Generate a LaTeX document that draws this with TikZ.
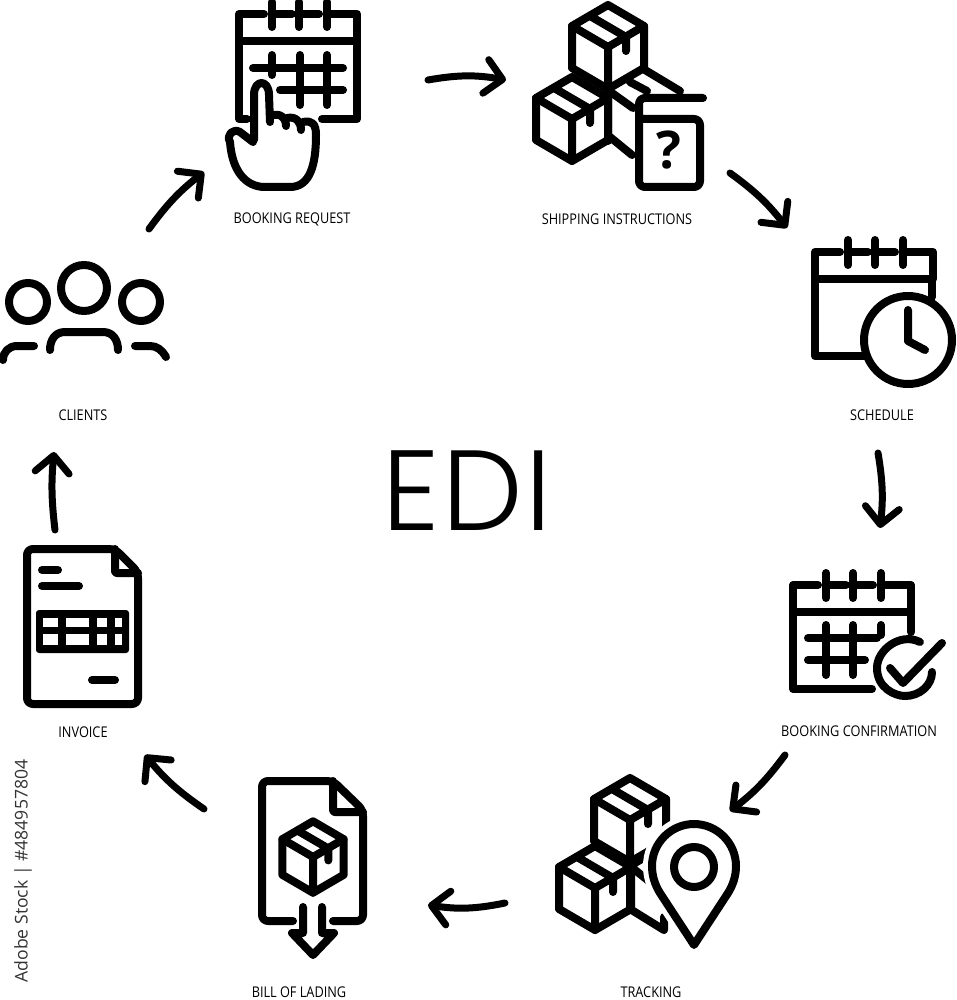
\documentclass[tikz,border=0pt]{standalone}
\usepackage{fontspec}
\usetikzlibrary{arrows.meta}
\newfontfamily\labelfont[FakeStretch=.86]{Open Sans}
\newfontfamily\titlefont[LetterSpace=2]{Poppins Light}
\begin{document}
\begin{tikzpicture}[
        x=1pt,y=-1pt,
        ink/.style={draw=black,line width=8pt,line cap=round,line join=round},
        flow/.style={draw=black,line width=7pt,line cap=round,-{Straight Barb[length=17pt,width=34pt,round]}},
        caption/.style={font=\labelfont\fontsize{14.8}{15}\selectfont,inner sep=0pt},
        cartonbox/.pic={
            \draw[ink] (0,-42)--(36,-21)--(36,21)--(0,42)--(-36,21)--(-36,-21)--cycle;
            \draw[ink] (-36,-21)--(0,0)--(36,-21) (0,0)--(0,42);
            \draw[ink] (-18,-31)--(18,-10)--(18,4);
        },
        calendarhead/.pic={
            \draw[ink] (0,27)--(0,0)--(25,0) (33,-12)--(33,13) (33,0)--(53,0);
            \draw[ink] (60,-12)--(60,13) (60,0)--(80,0) (88,-12)--(88,13);
            \draw[ink] (88,0)--(118,0)--(118,27) (0,27)--(118,27);
        }
      ]
      \useasboundingbox (0,0) rectangle (957,1000);
      \node[font=\titlefont\fontsize{114}{114}\selectfont,inner sep=0pt] (edi) at (467,491) {EDI};
      \node[caption] (bookingrequest) at (292,219) {BOOKING REQUEST};
      \node[caption] (shipping) at (617,219) {SHIPPING INSTRUCTIONS};
      \node[caption] (schedule) at (882,415) {SCHEDULE};
      \node[caption] (confirmation) at (859,731) {BOOKING CONFIRMATION};
      \node[caption] (tracking) at (651,992) {TRACKING};
      \node[caption] (lading) at (299,992) {BILL OF LADING};
      \node[caption] (invoice) at (83,732) {INVOICE};
      \node[caption] (clients) at (83,415) {CLIENTS};
      \node[rotate=90,text=black!80,font=\fontspec{Open Sans}\fontsize{17.6}{18}\selectfont,inner sep=0pt] (stockid) at (23,871) {Adobe Stock | \#484957804};

      \pic at (239,14) {calendarhead};
      \draw[ink] (239,41)--(239,119)--(247,119) (357,41)--(357,119)--(322,119);
      \draw[ink] (253,68)--(343,68) (280,90)--(343,90);
      \draw[ink] (272,55)--(272,75) (300,55)--(300,105) (327,55)--(327,105);
      \draw[ink] (254,140)--(254,95) .. controls (254,79) and (269,79) .. (269,95)--(270,122);
      \draw[ink] (271,116) .. controls (280,112) and (286,118) .. (286,126);
      \draw[ink] (287,118) .. controls (296,116) and (301,122) .. (301,130);
      \draw[ink] (303,122) .. controls (312,120) and (316,124) .. (316,135) .. controls (316,165) and (310,187) .. (290,187)--(265,187) .. controls (245,187) and (232,170) .. (230,142) .. controls (226,135) and (233,128) .. (240,132)--(253,142);

      \pic at (608,47) {cartonbox};
      \pic at (572,119) {cartonbox};
      \draw[ink] (608,90)--(608,141) (645,70)--(680,91) (630,82)--(647,91);
      \draw[ink] (612,93)--(633,108) (610,137)--(632,155);
      \draw[ink,rounded corners=6pt] (703,98)--(639,98)--(639,187)--(700,187)--(700,119)--(641,119);
      \node[font=\fontspec{Open Sans Bold}\fontsize{52}{52}\selectfont,inner sep=0pt] (question) at (669,150) {?};

      \pic at (815,252) {calendarhead};
      \draw[ink] (815,279)--(815,356)--(867,356) (932,279)--(932,297);
      \draw[ink] (908,340) circle[radius=44];
      \draw[ink] (908,310)--(908,341)--(925,350);

      \pic at (793,585) {calendarhead};
      \draw[ink] (793,612)--(793,689)--(872,689) (911,612)--(911,632);
      \draw[ink] (808,638)--(877,638) (808,660)--(865,660);
      \draw[ink] (826,625)--(826,675) (853,625)--(853,675) (881,625)--(881,635);
      \draw[ink] (920,642) .. controls (900,632) and (877,650) .. (877,668) .. controls (877,688) and (895,696) .. (905,696) .. controls (920,696) and (932,685) .. (932,672);
      \draw[ink] (890,668)--(903,683)--(942,643);

      \pic at (630,820) {cartonbox};
      \pic at (595,888) {cartonbox};
      \draw[ink] (630,860)--(630,909)--(664,930) (664,917)--(664,930);
      \draw[ink] (630,866)--(650,854) (630,866)--(650,882);
      \draw[draw=white,line width=18pt,line join=round] (694,945)--(660,893) .. controls (655,885) and (652,876) .. (652,866) .. controls (652,843) and (671,824) .. (694,824) .. controls (717,824) and (736,843) .. (736,866) .. controls (736,876) and (733,885) .. (728,893)--cycle;
      \draw[ink,fill=white] (694,945)--(660,893) .. controls (655,885) and (652,876) .. (652,866) .. controls (652,843) and (671,824) .. (694,824) .. controls (717,824) and (736,843) .. (736,866) .. controls (736,876) and (733,885) .. (728,893)--cycle;
      \draw[ink] (694,867) circle[radius=20];

      \draw[ink,rounded corners=6pt] (293,921)--(262,921)--(262,781)--(333,781)--(363,810)--(363,921)--(333,921);
      \draw[ink,rounded corners=2pt] (333,781)--(333,812)--(363,812);
      \draw[ink] (303,907)--(303,933)--(292,933)--(313,955)--(334,933)--(322,933)--(322,907);
      \pic[scale=.85] at (313,857) {cartonbox};

      \draw[ink,rounded corners=6pt] (115,549)--(27,549)--(27,704)--(138,704)--(138,572)--cycle;
      \draw[ink,rounded corners=2pt] (115,549)--(115,573)--(138,573);
      \draw[ink] (42,570)--(58,570) (42,586)--(79,586) (92,680)--(115,680);
      \fill[black,rounded corners=3pt] (36,610) rectangle (129,653);
      \foreach \xa/\xb in {43/58,66/89,97/107,115/122}{
        \fill[white] (\xa,618) rectangle (\xb,627);
        \fill[white] (\xa,634) rectangle (\xb,645);
      }

      \draw[ink] (84,288) circle[radius=23];
      \draw[ink] (28,302) circle[radius=19];
      \draw[ink] (141,302) circle[radius=19];
      \draw[ink] (50,350) .. controls (50,340) and (55,332) .. (65,332)--(103,332) .. controls (113,332) and (118,340) .. (118,350);
      \draw[ink] (3,360) .. controls (3,352) and (9,346) .. (17,346)--(34,346);
      \draw[ink] (135,346)--(150,346) .. controls (157,346) and (162,350) .. (166,357);

      \coordinate (a1) at (149,229); \coordinate (b1) at (204,172);
      \coordinate (a2) at (428,80);  \coordinate (b2) at (506,80);
      \coordinate (a3) at (730,173); \coordinate (b3) at (787,228);
      \coordinate (a4) at (878,453); \coordinate (b4) at (880,528);
      \coordinate (a5) at (785,755); \coordinate (b5) at (730,811);
      \coordinate (a6) at (505,903); \coordinate (b6) at (428,905);
      \coordinate (a7) at (204,809); \coordinate (b7) at (145,755);
      \coordinate (a8) at (55,530);  \coordinate (b8) at (54,452);
      \draw[flow] (a1) to[bend left=8] (b1);
      \draw[flow] (a2) to[bend left=10] (b2);
      \draw[flow] (a3) to[bend left=8] (b3);
      \draw[flow] (a4) to[bend left=8] (b4);
      \draw[flow] (a5) to[bend left=8] (b5);
      \draw[flow] (a6) to[bend left=10] (b6);
      \draw[flow] (a7) to[bend left=8] (b7);
      \draw[flow] (a8) to[bend left=6] (b8);
    \end{tikzpicture}
\end{document}
